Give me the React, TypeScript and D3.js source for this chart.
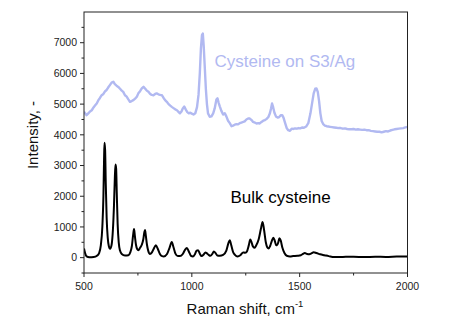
import React from "react";
import * as d3 from "d3";

const W = 474;
const H = 322;

const xTicksMajor = [500, 1000, 1500, 2000];
const xTicksMinor = [750, 1250, 1750];
const yTicksMajor = [0, 1000, 2000, 3000, 4000, 5000, 6000, 7000];
const yTicksMinor = [-500, 500, 1500, 2500, 3500, 4500, 5500, 6500, 7500];

const s3agSpectrum: [number, number][] = [
  [500, 4750], [505, 4700], [512, 4640], [520, 4700], [528, 4760], [536, 4800], [545, 4900], [552, 4960],
  [559, 5020], [566, 5120], [574, 5200], [582, 5290], [590, 5330], [598, 5420], [605, 5460], [612, 5540],
  [620, 5620], [628, 5700], [636, 5730], [643, 5650], [651, 5600], [659, 5560], [667, 5500], [675, 5440],
  [682, 5400], [690, 5290], [697, 5250], [705, 5160], [713, 5075], [721, 5100], [729, 5130], [737, 5180],
  [745, 5240], [752, 5350], [760, 5420], [768, 5510], [776, 5565], [784, 5500], [791, 5440], [799, 5400],
  [806, 5340], [814, 5300], [822, 5290], [830, 5330], [837, 5350], [845, 5320], [853, 5300], [861, 5290],
  [869, 5200], [876, 5130], [884, 5075], [892, 5000], [900, 4950], [907, 4910], [915, 4870], [923, 4830],
  [931, 4800], [938, 4750], [945, 4700], [952, 4760], [958, 4860], [965, 4920], [972, 4820], [979, 4740],
  [986, 4700], [993, 4720], [1000, 4690], [1008, 4660], [1016, 4700], [1024, 4900], [1031, 5300], [1037, 6000],
  [1042, 6800], [1047, 7250], [1051, 7300], [1055, 6900], [1060, 6200], [1065, 5500], [1070, 5000], [1075, 4700],
  [1083, 4590], [1091, 4600], [1099, 4700], [1106, 4860], [1114, 5150], [1119, 5190], [1124, 5050], [1130, 4920],
  [1137, 4780], [1145, 4660], [1153, 4700], [1160, 4600], [1168, 4460], [1176, 4380], [1184, 4280], [1191, 4300],
  [1199, 4330], [1207, 4350], [1214, 4340], [1222, 4380], [1230, 4400], [1238, 4420], [1245, 4440], [1253, 4500],
  [1261, 4530], [1269, 4530], [1277, 4480], [1284, 4420], [1292, 4400], [1300, 4370], [1308, 4380], [1315, 4370],
  [1323, 4420], [1331, 4460], [1339, 4480], [1347, 4520], [1355, 4580], [1362, 4700], [1367, 4850], [1372, 5020],
  [1377, 4900], [1383, 4720], [1390, 4600], [1398, 4560], [1405, 4580], [1413, 4640], [1419, 4640], [1425, 4560],
  [1432, 4400], [1440, 4220], [1447, 4150], [1455, 4130], [1463, 4200], [1471, 4190], [1479, 4210], [1487, 4200],
  [1495, 4220], [1503, 4210], [1511, 4240], [1520, 4230], [1530, 4270], [1540, 4380], [1550, 4700], [1558, 5050],
  [1565, 5350], [1572, 5500], [1578, 5510], [1584, 5400], [1590, 5100], [1596, 4700], [1602, 4450], [1609, 4350],
  [1617, 4300], [1625, 4280], [1633, 4270], [1641, 4260], [1650, 4250], [1660, 4240], [1670, 4230], [1680, 4220],
  [1690, 4220], [1700, 4200], [1710, 4210], [1720, 4190], [1730, 4180], [1740, 4180], [1750, 4190], [1760, 4170],
  [1770, 4180], [1780, 4170], [1790, 4160], [1800, 4170], [1810, 4150], [1820, 4150], [1830, 4130], [1840, 4120],
  [1850, 4110], [1860, 4100], [1870, 4100], [1880, 4080], [1890, 4100], [1900, 4120], [1910, 4110], [1920, 4140],
  [1930, 4160], [1940, 4180], [1950, 4190], [1960, 4200], [1970, 4210], [1980, 4220], [1990, 4240], [2000, 4260],
];

const bulkSpectrum: [number, number][] = [
  [500, 300], [505, 150], [512, 40], [525, 10], [545, 20], [560, 60], [570, 150], [578, 400], [585, 1000],
  [590, 2000], [593, 3200], [595, 3740], [598, 3500], [601, 2400], [605, 1300], [610, 650], [615, 380],
  [621, 290], [628, 420], [634, 900], [639, 1700], [643, 2600], [646, 3030], [649, 2900], [652, 2100],
  [656, 1100], [661, 500], [667, 230], [675, 120], [690, 70], [706, 80], [715, 180], [722, 380], [728, 750],
  [732, 930], [736, 700], [741, 420], [747, 270], [752, 240], [760, 320], [768, 420], [775, 600], [780, 840],
  [783, 900], [787, 700], [792, 420], [798, 220], [806, 120], [815, 170], [824, 300], [833, 400], [842, 290],
  [852, 120], [862, 50], [870, 40], [885, 120], [897, 330], [907, 510], [915, 340], [924, 130], [935, 50],
  [945, 50], [958, 120], [968, 250], [977, 315], [986, 200], [996, 60], [1005, 40], [1015, 120], [1022, 230],
  [1029, 240], [1037, 130], [1045, 50], [1055, 100], [1063, 170], [1070, 140], [1078, 90], [1086, 60],
  [1095, 120], [1102, 200], [1110, 150], [1118, 70], [1130, 60], [1145, 90], [1160, 230], [1170, 480],
  [1176, 565], [1183, 400], [1192, 170], [1200, 90], [1212, 40], [1225, 80], [1238, 170], [1246, 160],
  [1255, 200], [1264, 400], [1271, 590], [1276, 520], [1283, 370], [1290, 320], [1297, 380], [1310, 600],
  [1320, 930], [1328, 1160], [1335, 900], [1343, 500], [1350, 330], [1356, 300], [1363, 380], [1371, 550],
  [1378, 650], [1384, 560], [1390, 420], [1395, 400], [1401, 500], [1406, 630], [1412, 560], [1420, 320],
  [1430, 140], [1440, 60], [1455, 40], [1470, 50], [1490, 60], [1505, 80], [1515, 120], [1524, 150],
  [1535, 120], [1545, 110], [1555, 140], [1565, 175], [1578, 150], [1595, 110], [1615, 80], [1635, 50],
  [1660, 20], [1700, 25], [1750, 30], [1800, 20], [1850, 30], [1900, 25], [1950, 35], [2000, 40],
];

const FONT = "'Liberation Sans', Arial, Helvetica, sans-serif";

export default function App() {
  const left = 84, right = 407.5, top = 12, bottom = 273;
  const x = d3.scaleLinear().domain([500, 2000]).range([left, right]);
  const y = d3.scaleLinear().domain([-500, 8000]).range([bottom, top]);
  const smooth = d3
    .line<[number, number]>()
    .x((d) => x(d[0]))
    .y((d) => y(d[1]))
    .curve(d3.curveMonotoneX);
  const linear = d3
    .line<[number, number]>()
    .x((d) => x(d[0]))
    .y((d) => y(d[1]));

  const blue = "#b1b9f1";

  return (
    <svg
      width={W}
      height={H}
      style={{ position: "absolute", left: 0, top: 0, background: "#fff" }}
      fontFamily={FONT}
    >
      <rect x={0} y={0} width={W} height={H} fill="#fff" />
      <defs>
        <clipPath id="plot">
          <rect x={left} y={top} width={right - left} height={bottom - top} />
        </clipPath>
      </defs>
      <g clipPath="url(#plot)">
        <path d={linear(s3agSpectrum) || ""} fill="none" stroke={blue} strokeWidth={2.4} strokeLinejoin="round" />
        <path d={smooth(bulkSpectrum) || ""} fill="none" stroke="#000" strokeWidth={2} strokeLinejoin="round" />
      </g>
      <rect x={left} y={top} width={right - left} height={bottom - top} fill="none" stroke="#222" strokeWidth={1} />
      {xTicksMajor.map((t) => (
        <g key={"xM" + t}>
          <line x1={x(t)} x2={x(t)} y1={bottom} y2={bottom + 4} stroke="#222" />
          <text x={x(t)} y={289.5} fontSize={10.5} textAnchor="middle" fill="#222">{t}</text>
        </g>
      ))}
      {xTicksMinor.map((t) => (
        <line key={"xm" + t} x1={x(t)} x2={x(t)} y1={bottom} y2={bottom + 2.5} stroke="#222" />
      ))}
      {yTicksMajor.map((t) => (
        <g key={"yM" + t}>
          <line x1={left - 4} x2={left} y1={y(t)} y2={y(t)} stroke="#222" />
          <text x={77} y={y(t)} dy="0.36em" fontSize={10.5} textAnchor="end" fill="#222">{t}</text>
        </g>
      ))}
      {yTicksMinor.map((t) => (
        <line key={"ym" + t} x1={left - 2.5} x2={left} y1={y(t)} y2={y(t)} stroke="#222" />
      ))}
      <text x={245} y={314.3} fontSize={15} textAnchor="middle" fill="#111">
        Raman shift, cm<tspan fontSize={9.5} dy={-7}>-1</tspan>
      </text>
      <text transform={`translate(37.5,135) rotate(-90)`} fontSize={15} textAnchor="middle" fill="#111">
        Intensity, -
      </text>
      <text x={214.5} y={66.7} fontSize={17} fill={blue}>Cysteine on S3/Ag</text>
      <text x={230.5} y={203.3} fontSize={17} fill="#000">Bulk cysteine</text>
    </svg>
  );
}
